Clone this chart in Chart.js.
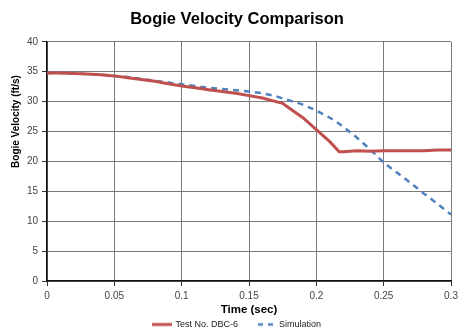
<!DOCTYPE html>
<html>
<head>
<meta charset="utf-8">
<script src="https://cdn.jsdelivr.net/npm/chart.js@4.4.1/dist/chart.umd.min.js"></script>
<style>
    html, body { margin: 0; padding: 0; background: #fff; }
    #wrap { width: 474px; height: 336px; }
</style>
</head>
<body>
<div id="wrap"><canvas id="velChart" width="474" height="336"></canvas></div>
<script>
// ======= Data =======
const timeSec = [0, 0.01, 0.02, 0.03, 0.04, 0.05, 0.06, 0.07, 0.08, 0.09, 0.10, 0.11, 0.12, 0.13, 0.14, 0.15,
    0.16, 0.17, 0.175, 0.18, 0.19, 0.20, 0.21, 0.217, 0.22, 0.23, 0.24, 0.25, 0.26, 0.27, 0.28, 0.29, 0.30];
const testDBC6 = [34.8, 34.8, 34.7, 34.6, 34.5, 34.3, 34.0, 33.7, 33.4, 33.0, 32.6, 32.3, 32.0, 31.7, 31.4, 31.0,
    30.6, 30.0, 29.7, 28.9, 27.3, 25.3, 23.3, 21.6, 21.6, 21.8, 21.7, 21.8, 21.8, 21.8, 21.8, 21.9, 21.9];
const simulation = [34.8, 34.8, 34.7, 34.6, 34.5, 34.3, 34.1, 33.8, 33.5, 33.2, 32.9, 32.6, 32.3, 32.1, 31.9, 31.7,
    31.4, 30.9, 30.5, 30.2, 29.5, 28.5, 27.3, 26.3, 25.8, 24.0, 22.0, 19.8, 18.1, 16.4, 14.6, 12.9, 11.1];
const xTicks = [0, 0.05, 0.1, 0.15, 0.2, 0.25, 0.3];
const yTicks = [0, 5, 10, 15, 20, 25, 30, 35, 40];

const toPoints = ys => timeSec.map((t, i) => ({ x: t, y: ys[i] }));
const FONT = "'Liberation Sans', Arial, sans-serif";
const tickFont = { family: FONT, size: 10 };
const gridOpts = { color: '#7a7a7a', tickColor: '#333', tickLength: 5, lineWidth: 1 };

// small line samples for the legend (the built-in 'line' style cannot show a dash)
function lineSample(w, color, lw, dash) {
    const c = document.createElement('canvas');
    c.width = w; c.height = 6;
    const g = c.getContext('2d');
    g.strokeStyle = color;
    g.lineWidth = lw;
    g.setLineDash(dash);
    g.beginPath();
    g.moveTo(0, 3);
    g.lineTo(w, 3);
    g.stroke();
    return c;
}
const legendSamples = [
    lineSample(20, '#c0504d', 3, []),
    lineSample(15, '#4f81bd', 2.5, [5, 5])
];

new Chart(document.getElementById('velChart').getContext('2d'), {
    type: 'line',
    data: {
        datasets: [{
            label: 'Test No. DBC-6',
            data: toPoints(testDBC6),
            borderColor: '#c0504d',
            backgroundColor: '#c0504d',
            borderWidth: 3,
            pointRadius: 0,
            tension: 0
        }, {
            label: 'Simulation',
            data: toPoints(simulation),
            borderColor: '#4f81bd',
            backgroundColor: '#4f81bd',
            borderWidth: 2.5,
            borderDash: [6, 5],
            pointRadius: 0,
            tension: 0
        }]
    },
    options: {
        responsive: false,
        animation: false,
        layout: { padding: { left: 0, right: 0, top: 0, bottom: -3 } },
        plugins: {
            title: {
                display: true,
                text: 'Bogie Velocity Comparison',
                color: '#000',
                font: { family: FONT, size: 16.5, weight: 'bold' },
                padding: { top: 10, bottom: 12 }
            },
            legend: {
                position: 'bottom',
                labels: {
                    color: '#222',
                    font: { family: FONT, size: 9 },
                    usePointStyle: true,
                    pointStyleWidth: 18,
                    padding: 6,
                    generateLabels(chart) {
                        const items = Chart.defaults.plugins.legend.labels.generateLabels(chart);
                        items.forEach((it, i) => { it.pointStyle = legendSamples[i]; });
                        items[0].text = items[0].text + '     '; // gap between entries
                        return items;
                    }
                }
            },
            tooltip: { enabled: false }
        },
        scales: {
            x: {
                type: 'linear',
                min: 0,
                max: 0.3,
                afterBuildTicks: s => { s.ticks = xTicks.map(v => ({ value: v })); },
                afterFit: s => { s.height = 33; },
                ticks: {
                    color: '#444',
                    font: tickFont,
                    padding: 4,
                    maxRotation: 0,
                    callback: v => String(v)
                },
                grid: gridOpts,
                border: { color: '#111', width: 1.5 },
                title: {
                    display: true,
                    text: 'Time (sec)',
                    color: '#000',
                    font: { family: FONT, size: 11.5, weight: 'bold' },
                    padding: { top: 0, bottom: -3 }
                }
            },
            y: {
                min: 0,
                max: 40,
                afterBuildTicks: s => { s.ticks = yTicks.map(v => ({ value: v })); },
                afterFit: s => { s.width = 47; },
                ticks: {
                    color: '#444',
                    font: tickFont,
                    padding: 4,
                    callback: v => String(v)
                },
                grid: gridOpts,
                border: { color: '#111', width: 1.5 },
                title: {
                    display: true,
                    align: 'end',
                    text: 'Bogie Velocity (ft/s)' + '            ',
                    color: '#000',
                    font: { family: FONT, size: 10, weight: 'bold' },
                    padding: { top: 10, bottom: 0 }
                }
            },
            // empty right-hand strip, keeps the title and legend centred on the page
            yRight: {
                position: 'right',
                min: 0,
                max: 40,
                afterFit: s => { s.width = 23; },
                ticks: { display: false },
                grid: { display: false },
                border: { display: false }
            }
        }
    }
});
</script>
</body>
</html>
